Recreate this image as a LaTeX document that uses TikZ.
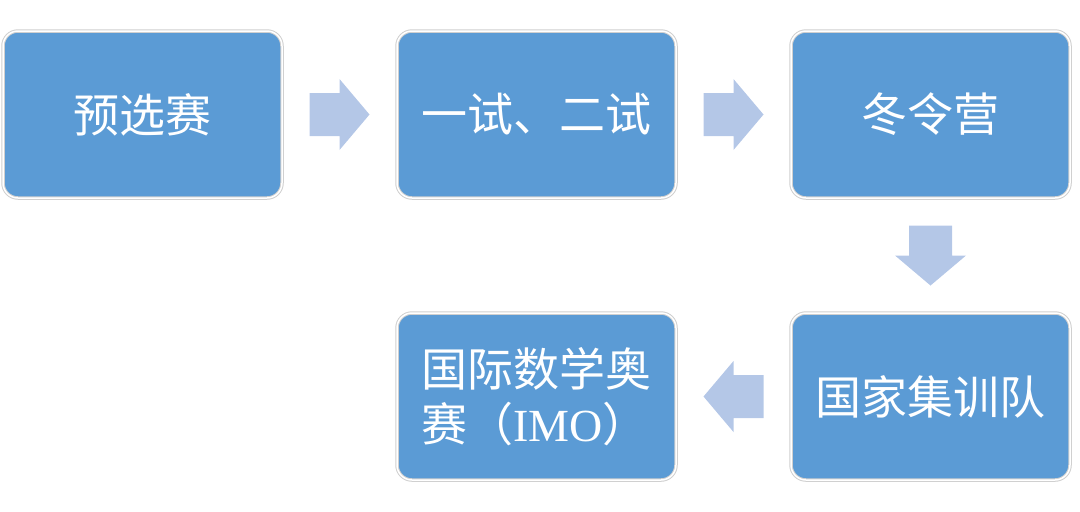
\documentclass[tikz,border=0pt]{standalone}
\usepackage{fontspec}
\setmainfont{Liberation Serif}
\newfontfamily\cjkfont{Noto Sans CJK SC}
\usetikzlibrary{positioning,calc}
\definecolor{boxblue}{HTML}{5B9BD5}
\definecolor{arrowblue}{HTML}{B4C7E7}
\definecolor{rimgray}{HTML}{D0D0D0}

\tikzset{
  stage/.style={rounded corners=7.5pt, fill=boxblue, draw=rimgray, double=white,
    double distance=0.75pt, line width=0.5pt, minimum width=139.5pt,
    minimum height=83.5pt, text=white, align=center, inner sep=0pt,
    font=\cjkfont\fontsize{23}{27.5}\selectfont},
  blockarrow/.pic={\fill[arrowblue] (-15pt,-10.75pt) -- (0pt,-10.75pt) -- (0pt,-17.75pt)
    -- (15pt,0pt) -- (0pt,17.75pt) -- (0pt,10.75pt) -- (-15pt,10.75pt) -- cycle;}
}

\begin{document}
\begin{tikzpicture}
  \useasboundingbox (0,0) rectangle (540pt,-255.5pt);
  % stages
  \node[stage] (yuxuan) at (71.25pt,-57.25pt) {预选赛};
  \node[stage, right=57pt of yuxuan] (shishi) {一试、二试};
  \node[stage, right=57pt of shishi] (dongling) {冬令营};
  \node[stage, below=57pt of dongling] (jixun) {国家集训队};
  \node[stage, left=57pt of jixun, align=left] (imo) {国际数学奥\\赛（{\rmfamily IMO}）};
  % block arrows
  \pic at ($(yuxuan.east)!0.5!(shishi.west)$) {blockarrow};
  \pic at ($(shishi.east)!0.5!(dongling.west)$) {blockarrow};
  \pic[rotate=-90] at ($(dongling.south)!0.5!(jixun.north)$) {blockarrow};
  \pic[rotate=180] at ($(jixun.west)!0.5!(imo.east)$) {blockarrow};
\end{tikzpicture}
\end{document}
